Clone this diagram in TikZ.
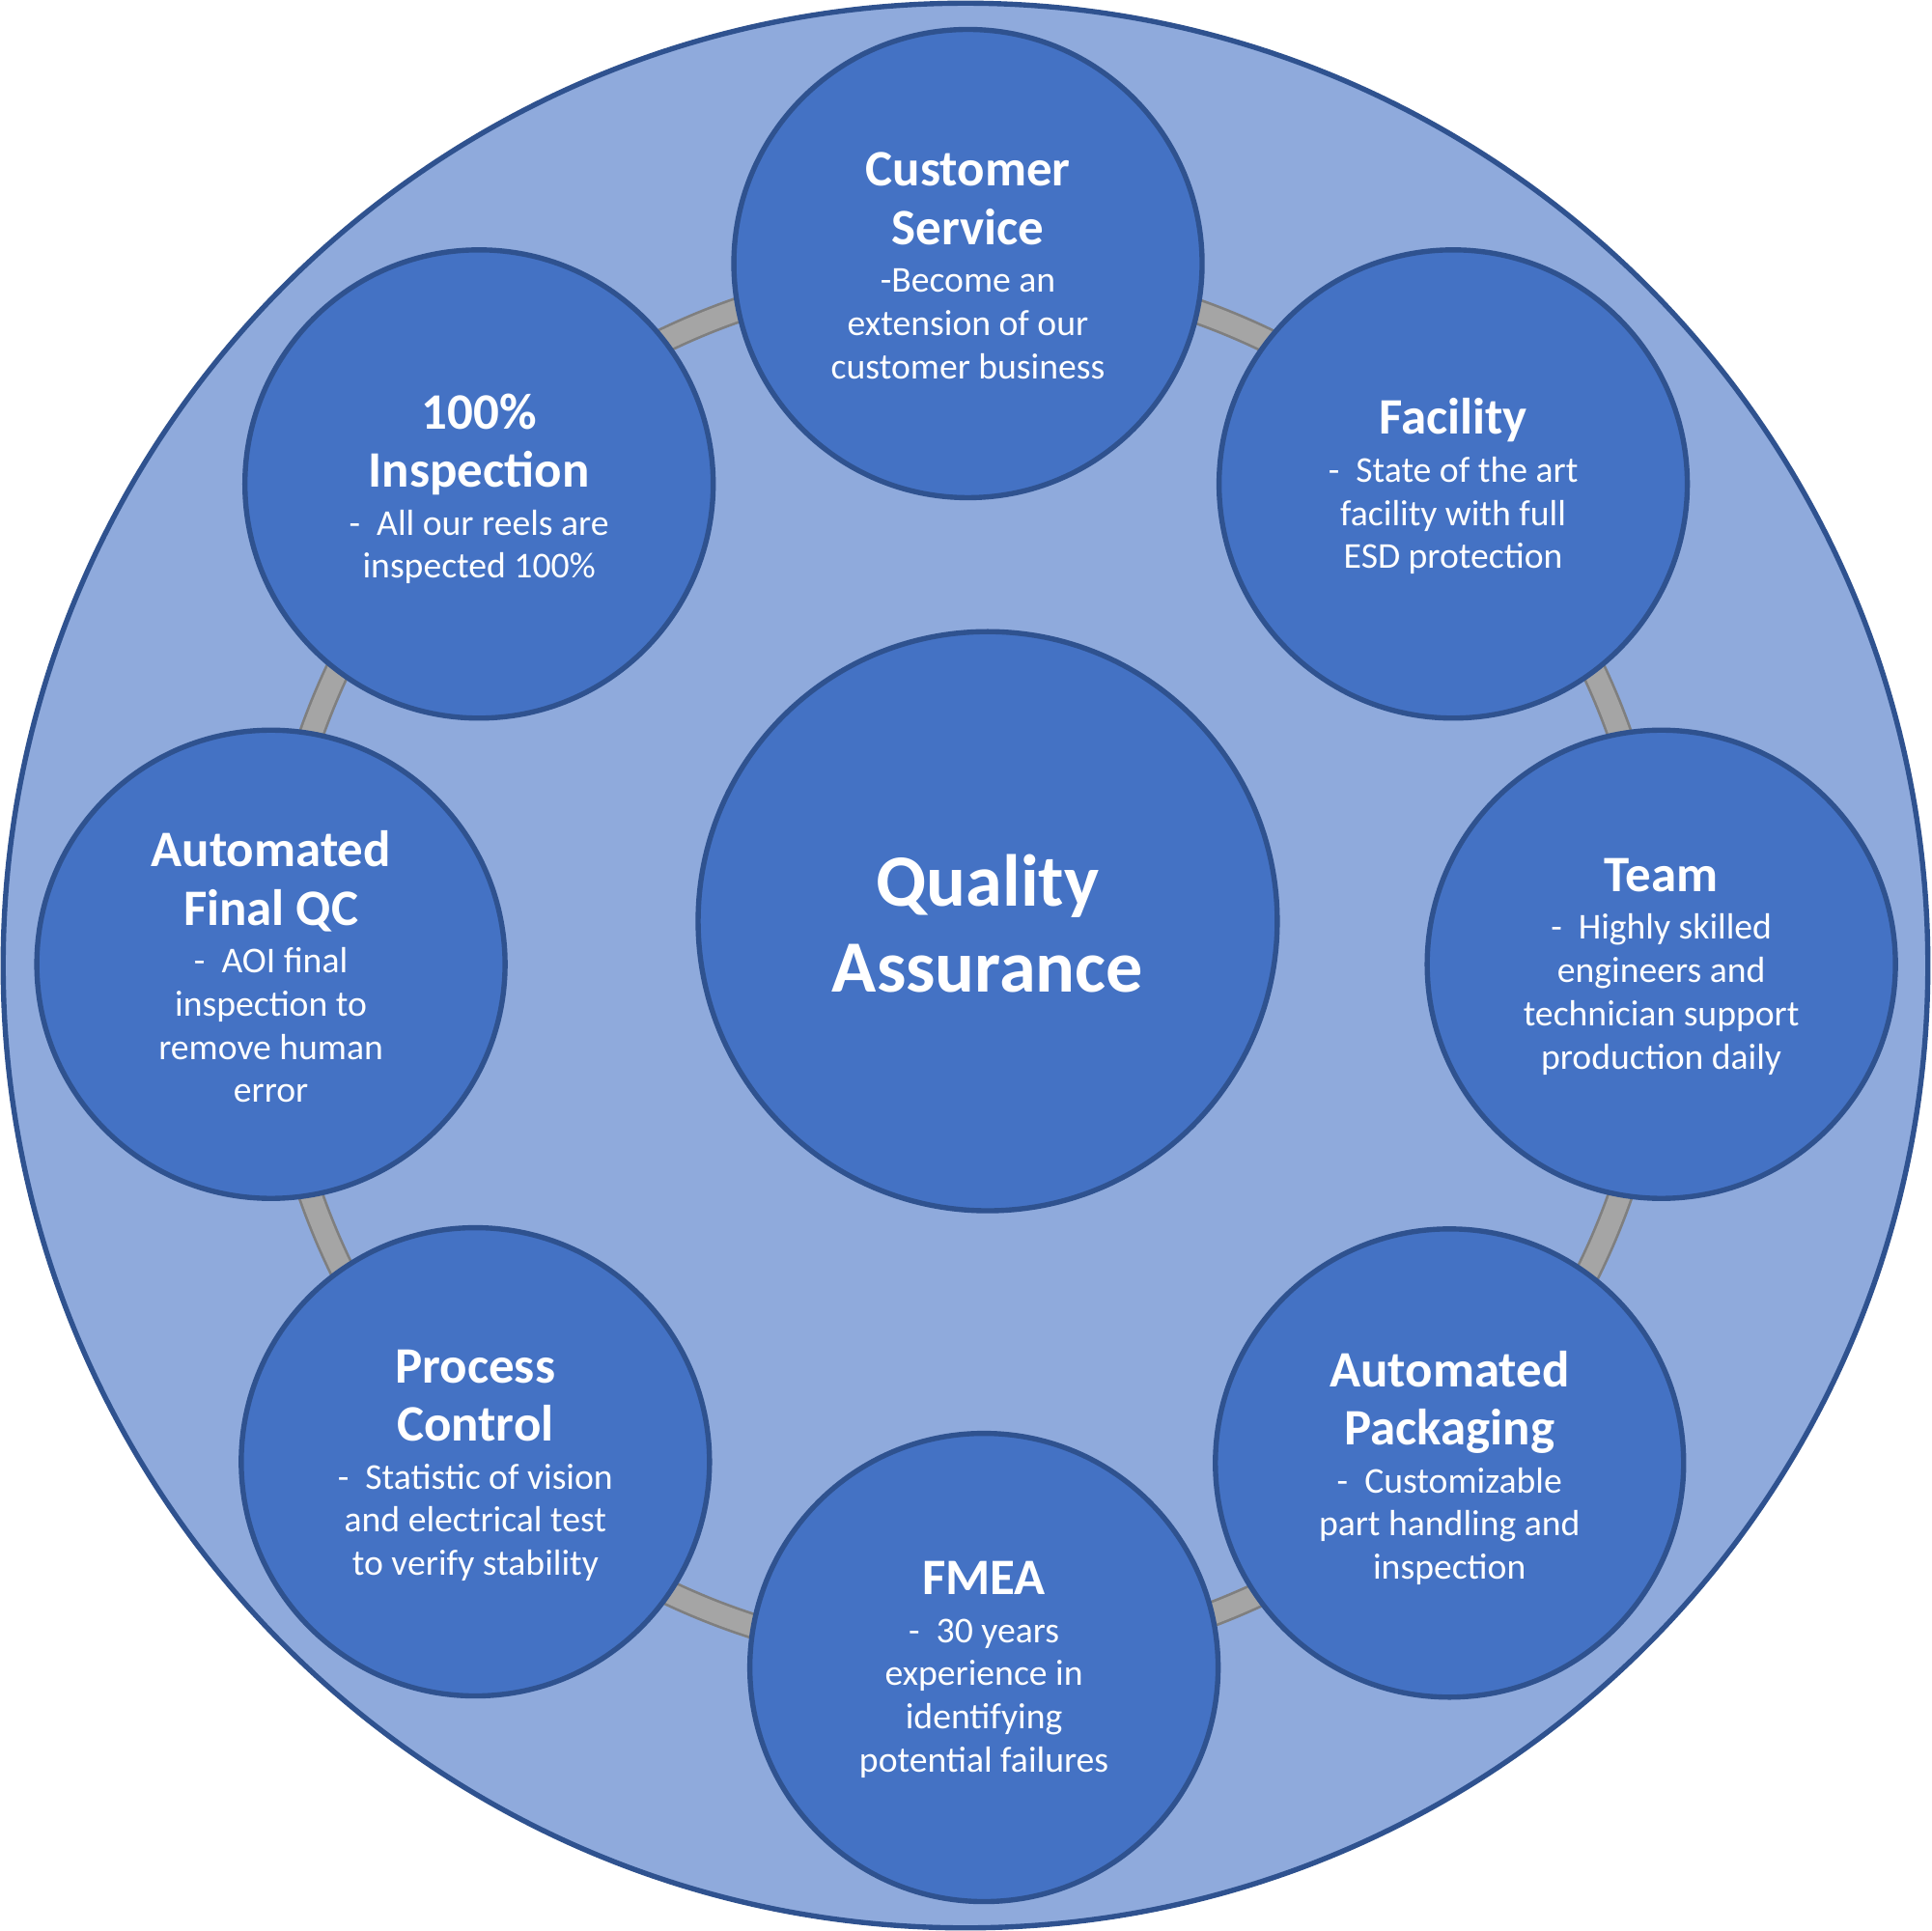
\documentclass[tikz,border=0pt]{standalone}
\usepackage{fontspec}
\setmainfont{Carlito}
\definecolor{bgb}{HTML}{8FAADC}
\definecolor{satb}{HTML}{4472C4}
\definecolor{edgeb}{HTML}{2F528F}
\definecolor{ringg}{HTML}{A5A5A5}
\definecolor{ringd}{HTML}{7F7F7F}
\newcommand\myttl{\bfseries\fontsize{11.8}{14.2}\selectfont}
\newcommand\mybdy{\mdseries\fontsize{8.4}{10}\selectfont}
\begin{document}
\begin{tikzpicture}[x=0.01cm,y=-0.01cm,
  sat/.style={circle,fill=satb,draw=edgeb,line width=1.2pt,minimum size=3.8cm,inner sep=0pt},
  txt/.style={text=white,align=center,font=\mybdy}]
\useasboundingbox (0,0) rectangle (1568,1568);
\node[circle,fill=bgb,draw=edgeb,line width=1.2pt,minimum size=15.62cm,inner sep=0pt] (outer) at (784,784) {};
\node[circle,draw=ringd,line width=6pt,minimum size=11.26cm,inner sep=0pt] (ring) at (784,784) {};
\node[circle,draw=ringg,line width=4.8pt,minimum size=11.26cm,inner sep=0pt] (ring2) at (784,784) {};
\node[circle,fill=satb,draw=edgeb,line width=1.2pt,minimum size=4.7cm,inner sep=0pt] (qa) at (802,748) {};
\node[text=white,align=center,font=\bfseries\fontsize{17}{20}\selectfont] (qat) at (802,750) {Quality\\Assurance};

\node[sat] (cs) at (786,214) {};
\node[txt] (cst) at (786,216) {\myttl Customer\\[3.5pt]\myttl Service\\[1pt]\mybdy -Become an\\extension of our\\customer business};
\node[sat] (fa) at (1180,393) {};
\node[txt] (fat) at (1180,395) {\myttl Facility\\[1pt]\mybdy -\ \ State of the art\\facility with full\\ESD protection};
\node[sat] (te) at (1349,783) {};
\node[txt] (tet) at (1349,785) {\myttl Team\\[1pt]\mybdy -\ \ Highly skilled\\engineers and\\technician support\\production daily};
\node[sat] (ap) at (1177,1188) {};
\node[txt] (apt) at (1177,1192) {\myttl Automated\\[3.5pt]\myttl Packaging\\[1pt]\mybdy -\ \ Customizable\\part handling and\\inspection};
\node[sat] (fm) at (799,1354) {};
\node[txt] (fmt) at (799,1356) {\myttl FMEA\\[1pt]\mybdy -\ \ 30 years\\experience in\\identifying\\potential failures};
\node[sat] (pc) at (386,1187) {};
\node[txt] (pct) at (386,1190) {\myttl Process\\[3.5pt]\myttl Control\\[1pt]\mybdy -\ \ Statistic of vision\\and electrical test\\to verify stability};
\node[sat] (qc) at (220,783) {};
\node[txt] (qct) at (220,785) {\myttl Automated\\[3.5pt]\myttl Final QC\\[1pt]\mybdy -\ \ AOI final\\inspection to\\remove human\\error};
\node[sat] (in) at (389,393) {};
\node[txt] (int) at (389,397) {\myttl 100\%\\[3.5pt]\myttl Inspection\\[1pt]\mybdy -\ \ All our reels are\\inspected 100\%};
\end{tikzpicture}
\end{document}
